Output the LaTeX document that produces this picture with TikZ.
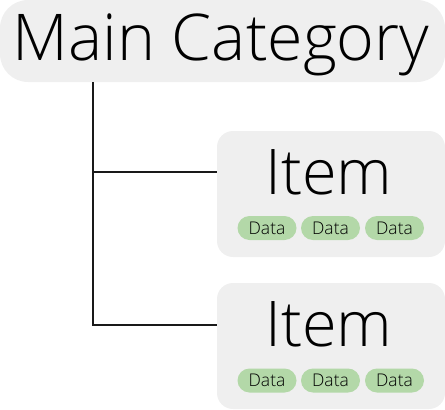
\documentclass[tikz,border=0pt]{standalone}
\usepackage{fontspec}
\setmainfont{Open Sans Light}
\begin{document}
\begin{tikzpicture}[x=1pt,y=-1pt,
  box/.style={fill=boxgray,rounded corners=#1,inner sep=0pt},
  pill/.style={fill=pillgreen,rounded corners=12pt,minimum width=59pt,minimum height=24pt,inner sep=0pt,font=\fontsize{17.5}{18}\selectfont},
  big/.style={font=\fontsize{63}{66}\selectfont,anchor=base,inner sep=0pt},
  conn/.style={line width=2.2pt,black!90}]
\definecolor{boxgray}{HTML}{EFEFEF}
\definecolor{pillgreen}{HTML}{B3D8A8}
\useasboundingbox (0,0) rectangle (445,410);
% boxes
\node[box=28pt,minimum width=445pt,minimum height=82pt] (main) at (222.5,41) {};
\node[box=16pt,minimum width=228pt,minimum height=126pt] (item1) at (331,194) {};
\node[box=16pt,minimum width=228pt,minimum height=126pt] (item2) at (331,346) {};
% texts
\node[big,font=\fontsize{64.5}{66}\selectfont] (maintext) at (221,60) {Main Category};
\node[big] (itemtext1) at (329,194) {Item};
\node[big] (itemtext2) at (329,346) {Item};
% pills
\foreach \i/\x in {1/267,2/330.5,3/394.5}{
  \node[pill] (p1\i) at (\x,228) {Data};
  \node[pill] (p2\i) at (\x,380.5) {Data};
}
% connectors
\coordinate (j1) at (93,172);
\coordinate (j2) at (93,325);
\draw[conn] (main.south -| j1) -- (j2) -- (item2.west |- j2);
\draw[conn] (j1) -- (item1.west |- j1);
\end{tikzpicture}
\end{document}
